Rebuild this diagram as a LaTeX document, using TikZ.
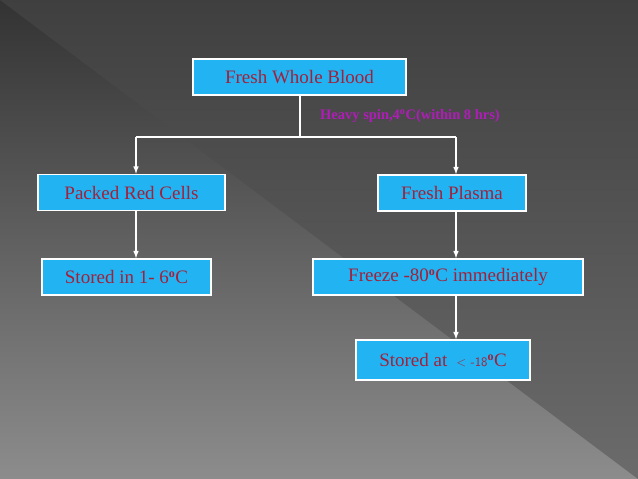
\documentclass[tikz,border=0pt]{standalone}
\usepackage{fontspec}
\setmainfont{Liberation Serif}
\definecolor{boxc}{HTML}{22B4F2}
\definecolor{txtc}{HTML}{A3203A}
\definecolor{magc}{HTML}{B01CB8}
\begin{document}
\begin{tikzpicture}[x=1pt,y=-1pt,
  bx/.style={draw=white,line width=1.5pt,fill=boxc,text=txtc,font=\fontsize{19}{21}\selectfont,minimum height=36pt,inner sep=0pt},
  ln/.style={draw=white,line width=1.5pt},
  ar/.style={ln,-latex}]
\shade[top color=black!80,bottom color=black!45] (0,0) rectangle (638,479);
\fill[black!70,opacity=0.5] (0,0) -- (638,0) -- (638,479) -- cycle;
\useasboundingbox (0,0) rectangle (638,479);
\node[bx,minimum width=213pt] (fwb) at (299.5,77) {Fresh Whole Blood};
\node[bx,minimum width=187pt] (prc) at (131.5,192.5) {Packed Red Cells};
\node[bx,minimum width=148pt] (fp) at (452,193) {Fresh Plasma};
\node[bx,minimum width=169pt] (s1) at (126.5,277) {Stored in 1- 6\textsuperscript{\textbf{\large o}}C};
\node[bx,minimum width=270pt] (fz) at (448,277) {Freeze -80\textsuperscript{\textbf{\large o}}C immediately};
\node[bx,minimum width=174pt,minimum height=40pt] (s2) at (443,360) {Stored at {\fontsize{13}{15}\selectfont\sffamily{} < -18}\textsuperscript{\textbf{\large o}}C};
\node[text=magc,font=\bfseries\fontsize{14.5}{16}\selectfont,anchor=west,inner sep=0pt] (lab) at (320,116) {Heavy spin,4\textsuperscript{o}C(within 8 hrs)};
\coordinate (j) at (300,137);
\coordinate (jl) at (136,137);
\coordinate (jr) at (456,137);
\draw[ln] (fwb.south -| j) -- (j);
\draw[ln] (jl) -- (jr);
\draw[ar] (jl) -- (jl |- prc.north);
\draw[ar] (jr) -- (jr |- fp.north);
\draw[ar] (prc.south -| jl) -- (jl |- s1.north);
\draw[ar] (fp.south -| jr) -- (jr |- fz.north);
\draw[ar] (fz.south -| jr) -- (jr |- s2.north);
\end{tikzpicture}
\end{document}
